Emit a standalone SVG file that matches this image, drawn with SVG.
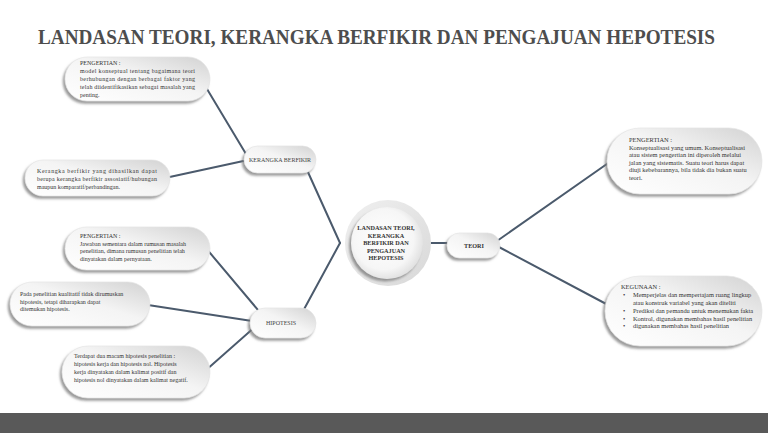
<svg xmlns="http://www.w3.org/2000/svg" width="768" height="433" viewBox="0 0 768 433">
<defs>
<linearGradient id="pill" x1="0" y1="1" x2="1" y2="0">
<stop offset="0" stop-color="#ffffff"/>
<stop offset="0.55" stop-color="#f4f4f4"/>
<stop offset="1" stop-color="#d2d2d2"/>
</linearGradient>
<radialGradient id="inner" cx="0.45" cy="0.45" r="0.6">
<stop offset="0" stop-color="#ffffff"/>
<stop offset="0.7" stop-color="#f6f6f6"/>
<stop offset="1" stop-color="#dcdcdc"/>
</radialGradient>
<linearGradient id="ring" x1="0" y1="0" x2="1" y2="1">
<stop offset="0" stop-color="#f0f0f0"/>
<stop offset="1" stop-color="#d8d8d8"/>
</linearGradient>
<filter id="sh" x="-20%" y="-30%" width="140%" height="170%">
<feDropShadow dx="-2" dy="2.5" stdDeviation="1.2" flood-color="#7a7a7a" flood-opacity="0.75"/>
</filter>
</defs>
<style>
.p{fill:url(#pill);stroke:#e2e2e2;stroke-width:0.6;filter:url(#sh)}
.t{font-family:"Liberation Serif","Times New Roman",serif;font-size:6px;fill:#333}
.tr{font-family:"Liberation Serif","Times New Roman",serif;font-size:6.4px;fill:#333}
.lb{font-family:"Liberation Serif","Times New Roman",serif;font-size:6px;fill:#444;text-anchor:middle}
.cb{font-family:"Liberation Serif","Times New Roman",serif;font-size:6.2px;font-weight:bold;fill:#333;text-anchor:middle}
.c{fill:none;stroke:#4b5a6c;stroke-width:2;stroke-linecap:round}
</style>
<rect width="768" height="433" fill="#ffffff"/>
<text x="376.5" y="44" text-anchor="middle" textLength="677" lengthAdjust="spacingAndGlyphs" font-family="'Liberation Serif','Times New Roman',serif" font-weight="bold" font-size="20" fill="#4d4d4d">LANDASAN TEORI, KERANGKA BERFIKIR DAN PENGAJUAN HEPOTESIS</text>
<g id="connectors">
<line class="c" x1="201" y1="79" x2="249" y2="159"/>
<line class="c" x1="165" y1="178" x2="248" y2="160"/>
<line class="c" x1="307" y1="170" x2="340" y2="243"/>
<line class="c" x1="302" y1="313" x2="340" y2="243"/>
<line class="c" x1="205" y1="247" x2="263" y2="316"/>
<line class="c" x1="148" y1="305" x2="252" y2="321"/>
<line class="c" x1="205" y1="371" x2="256" y2="326"/>
<line class="c" x1="428" y1="243" x2="450" y2="243"/>
<line class="c" x1="497" y1="241" x2="614" y2="159"/>
<line class="c" x1="497" y1="246" x2="610" y2="306"/>
</g>
<g id="node-pengertian-kb">
<rect class="p" x="65" y="57" width="145" height="44" rx="22"/>
<text class="t" x="80" y="65">PENGERTIAN :</text>
<text class="t" x="80" y="73" textLength="115" lengthAdjust="spacing">model konseptual tentang bagaimana teori</text>
<text class="t" x="80" y="81" textLength="115" lengthAdjust="spacing">berhubungan dengan berbagai faktor yang</text>
<text class="t" x="80" y="89" textLength="115" lengthAdjust="spacing">telah diidentifikasikan sebagai masalah yang</text>
<text class="t" x="80" y="97">penting.</text>
</g>
<g id="node-kerangka-desc">
<rect class="p" x="25" y="160" width="145" height="36" rx="18"/>
<text class="t" x="37" y="173" textLength="120" lengthAdjust="spacing">Kerangka berfikir yang dihasilkan dapat</text>
<text class="t" x="37" y="181" textLength="120" lengthAdjust="spacing">berupa kerangka berfikir assosiatif/hubungan</text>
<text class="t" x="37" y="189">maupun komparatif/perbandingan.</text>
</g>
<g id="node-kerangka-berfikir">
<rect class="p" x="244" y="146" width="72" height="27" rx="13.5"/>
<text class="lb" x="280" y="162">KERANGKA BERFIKIR</text>
</g>
<g id="node-center">
<circle cx="388" cy="243" r="43" fill="url(#ring)"/>
<circle cx="387" cy="243" r="36" fill="url(#inner)" filter="url(#sh)"/>
<text class="cb" x="386" y="230">LANDASAN TEORI,</text>
<text class="cb" x="386" y="237.5">KERANGKA</text>
<text class="cb" x="386" y="245">BERFIKIR DAN</text>
<text class="cb" x="386" y="252.5">PENGAJUAN</text>
<text class="cb" x="386" y="260">HEPOTESIS</text>
</g>
<g id="node-teori">
<rect class="p" x="447" y="233" width="53" height="25" rx="12.5"/>
<text class="cb" x="474" y="248" font-weight="bold">TEORI</text>
</g>
<g id="node-pengertian-teori">
<rect class="p" x="607" y="128" width="155" height="66" rx="33"/>
<text class="tr" x="629" y="142">PENGERTIAN :</text>
<text class="tr" x="629" y="149.5">Konseptualisasi yang umum. Konseptualisasi</text>
<text class="tr" x="629" y="157">atau sistem pengertian ini diperoleh melalui</text>
<text class="tr" x="629" y="164.5">jalan yang sistematis. Suatu teori harus dapat</text>
<text class="tr" x="629" y="172">diuji kebebarannya, bila tidak dia bukan suatu</text>
<text class="tr" x="629" y="179.5">teori.</text>
</g>
<g id="node-kegunaan">
<rect class="p" x="605" y="276" width="157" height="70" rx="35"/>
<text class="tr" x="621" y="289">KEGUNAAN :</text>
<text class="tr" x="623" y="297">•</text>
<text class="tr" x="633" y="297">Memperjelas dan mempertajam ruang lingkup</text>
<text class="tr" x="633" y="305">atau konstruk variabel yang akan diteliti</text>
<text class="tr" x="623" y="313">•</text>
<text class="tr" x="633" y="313">Prediksi dan pemandu untuk menemukan fakta</text>
<text class="tr" x="623" y="320.5">•</text>
<text class="tr" x="633" y="320.5">Kontrol, digunakan membahas hasil penelitian</text>
<text class="tr" x="623" y="328">•</text>
<text class="tr" x="633" y="328">digunakan membahas hasil penelitian</text>
</g>
<g id="node-pengertian-hipotesis">
<rect class="p" x="65" y="227" width="145" height="43" rx="21.5"/>
<text class="t" x="80" y="238">PENGERTIAN :</text>
<text class="t" x="80" y="245.5">Jawaban sementara dalam rumusan masalah</text>
<text class="t" x="80" y="253">penelitian, dimana rumusan penelitian telah</text>
<text class="t" x="80" y="260.5">dinyatakan dalam pernyataan.</text>
</g>
<g id="node-pada-penelitian">
<rect class="p" x="10" y="282" width="140" height="44" rx="22"/>
<text class="t" x="20" y="296">Pada penelitian kualitatif tidak dirumuskan</text>
<text class="t" x="20" y="303.5">hipotesis, tetapi diharapkan dapat</text>
<text class="t" x="20" y="311">ditemukan hipotesis.</text>
</g>
<g id="node-hipotesis">
<rect class="p" x="250" y="308" width="66" height="30" rx="15"/>
<text class="lb" x="281" y="325">HIPOTESIS</text>
</g>
<g id="node-dua-macam">
<rect class="p" x="62" y="346" width="148" height="52" rx="26"/>
<text class="t" x="74" y="358">Terdapat dua macam hipotesis penelitian :</text>
<text class="t" x="74" y="366">hipotesis kerja dan hipotesis nol. Hipotesis</text>
<text class="t" x="74" y="374">kerja dinyatakan dalam kalimat positif dan</text>
<text class="t" x="74" y="382">hipotesis nol dinyatakan dalam kalimat negatif.</text>
</g>
<rect x="0" y="413" width="768" height="20" fill="#595959"/>
</svg>
